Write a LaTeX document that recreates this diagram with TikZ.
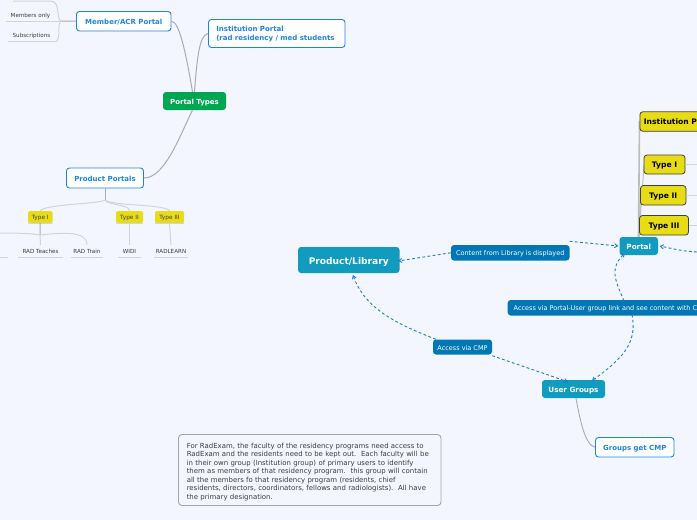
\documentclass[tikz,border=0pt]{standalone}
\usepackage{fontspec}
\setmainfont{DejaVu Sans}
\usetikzlibrary{arrows.meta}
\definecolor{bgc}{HTML}{F3F6FF}
\definecolor{bluet}{HTML}{1F83E6}
\definecolor{tealc}{HTML}{119BBF}
\definecolor{labc}{HTML}{0277B5}
\definecolor{yel}{HTML}{E8DC17}
\definecolor{greenc}{HTML}{00A651}
\definecolor{dashc}{HTML}{1C7FC4}
\definecolor{linec}{HTML}{ABABAB}
\definecolor{leafl}{HTML}{D4D4D8}
\definecolor{txt}{HTML}{3A3A44}
\tikzset{
 box/.style={rectangle,rounded corners=3pt,inner sep=0pt,anchor=center},
 onel/.style={text height=6.3pt,text depth=0pt},
 greenbox/.style={box,onel,fill=greenc,text=white,font=\fontsize{7}{8}\selectfont\bfseries},
 whitebox/.style={box,fill=white,draw=bluet,line width=0.9pt,text=bluet,font=\fontsize{7}{9.2}\selectfont\bfseries},
 tealbox/.style={box,onel,fill=tealc,text=white,font=\fontsize{7.2}{8}\selectfont\bfseries},
 labbox/.style={box,onel,fill=labc,text=white,font=\fontsize{6.5}{8}\selectfont},
 yelbox/.style={box,onel,fill=yel,draw=black!75,line width=0.8pt,text=black,font=\fontsize{7.6}{8}\selectfont\bfseries},
 smallyel/.style={box,fill=yel,text=black!75,rounded corners=1.5pt,font=\fontsize{5.8}{6}\selectfont,text height=4.4pt,text depth=0pt},
 leaf/.style={inner sep=0pt,text=txt,font=\fontsize{5.6}{6}\selectfont,text height=4.2pt,text depth=0pt},
 conn/.style={draw=linec,line width=1pt},
 thinconn/.style={draw=leafl,line width=1pt},
 dashconn/.style={draw=dashc,line width=0.9pt,dash pattern=on 2.8pt off 2.4pt,-{Straight Barb[length=3pt,width=4pt]}},
 uline/.style={draw=leafl,line width=1pt},
}
\begin{document}
\begin{tikzpicture}[x=1pt,y=-1pt]
\useasboundingbox (0,0) rectangle (697,520);
\clip (0,0) rectangle (697,520);
\fill[bgc] (0,0) rectangle (697,520);
% left map nodes
\node[greenbox,minimum width=63pt,minimum height=18pt] (types) at (194.5,101) {Portal Types};
\node[whitebox,onel,minimum width=94.5pt,minimum height=19.5pt] (member) at (123.75,21.25) {Member/ACR Portal};
\node[whitebox,minimum width=136.5pt,minimum height=28pt,align=left,text width=121pt] (inst) at (276.75,33.5) {\mbox{}\\[-3.2pt]Institution Portal\\(rad residency / med students};
\node[whitebox,onel,minimum width=77pt,minimum height=20pt] (product) at (105,178) {Product Portals};
\node[smallyel,minimum width=24.5pt,minimum height=12pt] (t1) at (40.25,217) {Type I};
\node[smallyel,minimum width=27pt,minimum height=12pt] (t2) at (129.5,217) {Type II};
\node[smallyel,minimum width=29pt,minimum height=12pt] (t3) at (169.5,217) {Type III};
\node[leaf,minimum width=49pt,minimum height=12pt] (monly) at (30.5,15.5) {Members only};
\node[leaf,minimum width=47pt,minimum height=12pt] (subs) at (31.5,35.5) {Subscriptions};
\node[leaf,minimum width=44pt,minimum height=12pt] (radexam) at (-14,251) {RadExam};
\node[leaf,minimum width=44pt,minimum height=12pt] (teach) at (40.5,251) {RAD Teaches};
\node[leaf,minimum width=32pt,minimum height=12pt] (train) at (87,251) {RAD Train};
\node[leaf,minimum width=22pt,minimum height=12pt] (widi) at (129.5,251) {WIDI};
\node[leaf,minimum width=34pt,minimum height=12pt] (learn) at (171,251) {RADLEARN};
\foreach \n in {monly,subs,radexam,teach,train,widi,learn}{
  \draw[uline] (\n.south west) -- (\n.south east);
}
\draw[uline] (t1.south west) -- (t1.south east);
\draw[uline] (t2.south west) -- (t2.south east);
\draw[uline] (t3.south west) -- (t3.south east);
\coordinate (topleaf) at (13,1);
\coordinate (branch) at (62,21);
\coordinate (hub) at (105,200);
\coordinate (hubtwo) at (40,235);
% left connectors
\draw[conn] ([xshift=-2pt]types.north) .. controls (187,60) and (180,21) .. (member.east);
\draw[conn] (types.north) .. controls (197,60) and (199,35) .. (inst.west);
\draw[conn] (product.east) .. controls (165,178) and (180,135) .. ([xshift=-2pt]types.south);
\draw[conn] (member.west) -- (branch);
\draw[thinconn] (branch) .. controls (55,21) and (62,1) .. (50,1) -- (topleaf);
\draw[thinconn] (branch) -- (monly.south east);
\draw[thinconn] (branch) .. controls (56,21) and (62,41) .. (subs.south east);
\draw[conn] (product.south) -- (hub);
\draw[thinconn] (hub) .. controls (100,204) and (45,204) .. (t1.north);
\draw[thinconn] (hub) .. controls (110,206) and (129,204) .. (t2.north);
\draw[thinconn] (hub) .. controls (112,206) and (165,204) .. (t3.north);
\draw[conn] (t1.south) -- (hubtwo);
\draw[thinconn] (hubtwo) -- (teach.north);
\draw[thinconn] (hubtwo) .. controls (30,233) and (10,233) .. (-5,233);
\draw[thinconn] (hubtwo) .. controls (60,233) and (87,230) .. (train.north);
\draw[thinconn] (t2.south) -- (widi.north);
\draw[thinconn] (t3.south) -- (learn.north);
% right yellow
\draw[draw=linec!80,line width=1.6pt] (638.5,237) -- (639.5,121);
\draw[draw=linec!80,line width=0.9pt] (639,237) -- (644,165);
\draw[draw=linec!80,line width=1.2pt] (639,237) -- (640.5,195);
\node[yelbox,minimum width=90pt,minimum height=19.5pt,anchor=west,text width=82pt,align=left] (ip) at (639.5,121.5) {Institution Portal};
\node[yelbox,minimum width=41pt,minimum height=19pt] (y1) at (664.5,164.5) {Type I};
\node[yelbox,minimum width=45.5pt,minimum height=19.5pt] (y2) at (663.25,195.25) {Type II};
\node[yelbox,minimum width=49pt,minimum height=19.5pt] (y3) at (664,225.25) {Type III};
\coordinate (r1) at (697,164.5);
\coordinate (r2) at (697,195.25);
\coordinate (r3) at (697,225.25);
\draw[thinconn] (y1.east) -- (r1);
\draw[thinconn] (y2.east) -- (r2);
\draw[thinconn] (y3.east) -- (r3);
% right map
\node[tealbox,minimum width=38.5pt,minimum height=18pt] (portal) at (638.75,246) {Portal};
\node[tealbox,minimum width=101.5pt,minimum height=26pt,font=\fontsize{9.1}{10}\selectfont\bfseries,text height=8pt] (lib) at (348.75,260) {Product/Library};
\node[labbox,minimum width=118.5pt,minimum height=15.5pt] (content) at (510.25,252.75) {Content from Library is displayed};
\node[labbox,minimum width=200pt,minimum height=15.5pt,anchor=west] (via) at (507.5,307.75) {\hspace*{5pt}Access via Portal-User group link and see content with CMP};
\node[labbox,minimum width=59pt,minimum height=15pt] (cmp) at (462.5,347) {Access via CMP};
\node[tealbox,minimum width=63pt,minimum height=18pt] (ug) at (573.5,389) {User Groups};
\node[whitebox,onel,minimum width=78.5pt,minimum height=19.5pt] (get) at (634.75,447.25) {Groups get CMP};
\coordinate (rightfree) at (697,252);
\draw[dashconn] (content.west) -- ([xshift=-1.5pt,yshift=-1pt]lib.east);
\draw[dashconn] ([yshift=3.5pt]content.north east) -- ([xshift=-1pt]portal.west);
\draw[dashconn] (rightfree) .. controls (680,251) and (670,248) .. ([xshift=1.5pt]portal.east);
\draw[dashconn] ([xshift=3pt]cmp.north west) .. controls (400,325) and (365,310) .. (353,275);
\draw[dashconn] ([yshift=-1pt]cmp.south east) -- ([yshift=-2pt,xshift=-5.5pt]ug.north);
\draw[dashconn] ([xshift=116.5pt,yshift=-1pt]via.north west) .. controls (614,278) and (610,268) .. ([xshift=-14pt,yshift=2pt]portal.south);
\draw[dashconn] ([xshift=124.5pt,yshift=1pt]via.south west) .. controls (638,345) and (620,360) .. ([xshift=18.5pt,yshift=-1pt]ug.north);
\draw[conn,line width=0.9pt] ([xshift=2.5pt]ug.south) .. controls (580,420) and (585,445) .. (get.west);
% note
\node[rectangle,rounded corners=3.5pt,draw=black!35,line width=0.9pt,fill=bgc,minimum width=262.5pt,minimum height=71pt,text width=246pt,align=left,inner sep=0pt,text=txt,font=\fontsize{6.95}{8.45}\selectfont] (note) at (309.75,470) {\mbox{}\\[0.55pt]For RadExam, the faculty of the residency programs need access to\\RadExam and the residents need to be kept out.\ \ Each faculty will be\\in their own group (Institution group) of primary users to identify\\them as members of that residency program.\ \ this group will contain\\all the members fo that residency program (residents, chief\\residents, directors, coordinators, fellows and radiologists).\ \ All have\\the primary designation.};
\end{tikzpicture}
\end{document}
